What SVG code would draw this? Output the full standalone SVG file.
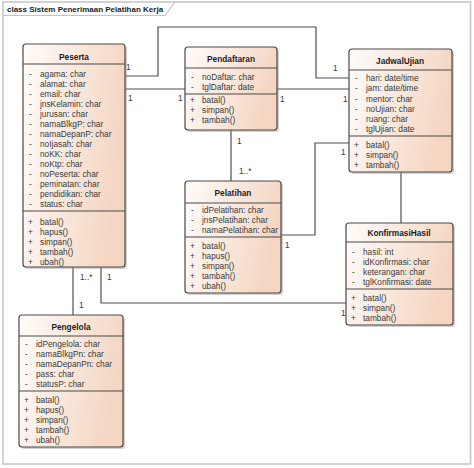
<svg xmlns="http://www.w3.org/2000/svg" width="474" height="468" viewBox="0 0 474 468">
<defs>
<linearGradient id="g" x1="0" y1="0" x2="1" y2="0.25">
<stop offset="0" stop-color="#fffcfa"/>
<stop offset="1" stop-color="#f4d6c2"/>
</linearGradient>
</defs>
<style>
text{font-family:"Liberation Sans",Arial,sans-serif;font-size:8.3px;fill:#3a3a3a}
.t{font-weight:bold;font-size:8.3px;fill:#222;text-anchor:middle}
.ttl{font-weight:bold;font-size:8px;fill:#222}
.box{fill:url(#g);stroke:#4a4a4a;stroke-width:1.2}
.sh{fill:#9a9a9a;opacity:0.45}
.dv{stroke:#4a4a4a;stroke-width:1.2}
.c{fill:none;stroke:#505050;stroke-width:1.2}
.m{font-size:8px}
.v{fill:#777}
</style>
<rect width="474" height="468" fill="#ffffff"/>
<g id="frame">
<rect x="3" y="2" width="467.5" height="462" fill="none" stroke="#c4c4c4" stroke-width="1.5"/>
<polyline points="3,15.5 165,15.5 175,2" fill="none" stroke="#c4c4c4" stroke-width="1.2"/>
<text class="ttl" x="7" y="12">class Sistem Penerimaan Pelatihan Kerja</text>
</g>
<g id="connectors">
<polyline class="c" points="125,76 158,76 158,27 316,27 316,78 349,78"/>
<line class="c" x1="125" y1="89" x2="185" y2="89"/>
<line class="c" x1="277" y1="89" x2="349" y2="89"/>
<line class="c" x1="231" y1="130" x2="231" y2="181"/>
<polyline class="c" points="281,235 315,235 315,143 349,143"/>
<line class="c" x1="401" y1="172" x2="401" y2="223"/>
<polyline class="c" points="101,267 101,303 346,303"/>
<line class="c" x1="73" y1="267" x2="73" y2="315"/>
<g class="m">
<text x="126" y="70">1</text>
<text x="333" y="71">1</text>
<text x="128" y="101">1</text>
<text x="178" y="101">1</text>
<text x="280" y="102">1</text>
<text x="343" y="102">1</text>
<text x="237" y="144">1</text>
<text x="239" y="174">1..*</text>
<text x="285" y="248">1</text>
<text x="341" y="155">1</text>
<text x="107" y="280">1</text>
<text x="341" y="316">1</text>
<text x="80" y="280">1..*</text>
<text x="79" y="308">1</text>
</g>
</g>
<g id="Peserta">
<rect class="sh" x="25" y="46" width="102" height="223" rx="3"/>
<rect class="box" x="23" y="44" width="102" height="223" rx="3"/>
<line class="dv" x1="23" y1="64" x2="125" y2="64"/>
<line class="dv" x1="23" y1="211" x2="125" y2="211"/>
<text class="t" x="74" y="60">Peserta</text>
<g class="v"><text x="29" y="77">-</text><text x="29" y="87">-</text><text x="29" y="97">-</text><text x="29" y="107">-</text><text x="29" y="117">-</text><text x="29" y="127">-</text><text x="29" y="137">-</text><text x="29" y="147">-</text><text x="29" y="157">-</text><text x="29" y="167">-</text><text x="29" y="177">-</text><text x="29" y="187">-</text><text x="29" y="197">-</text><text x="29" y="207">-</text></g>
<text x="40" y="77">agama: char</text>
<text x="40" y="87">alamat: char</text>
<text x="40" y="97">email: char</text>
<text x="40" y="107">jnsKelamin: char</text>
<text x="40" y="117">jurusan: char</text>
<text x="40" y="127">namaBlkgP: char</text>
<text x="40" y="137">namaDepanP: char</text>
<text x="40" y="147">noIjasah: char</text>
<text x="40" y="157">noKK: char</text>
<text x="40" y="167">noKtp: char</text>
<text x="40" y="177">noPeserta: char</text>
<text x="40" y="187">peminatan: char</text>
<text x="40" y="197">pendidikan: char</text>
<text x="40" y="207">status: char</text>
<text x="28" y="225">+</text><text x="28" y="235">+</text><text x="28" y="245">+</text><text x="28" y="255">+</text><text x="28" y="265">+</text>
<text x="40" y="225">batal()</text>
<text x="40" y="235">hapus()</text>
<text x="40" y="245">simpan()</text>
<text x="40" y="255">tambah()</text>
<text x="40" y="265">ubah()</text>
</g>
<g id="Pendaftaran">
<rect class="sh" x="187" y="49" width="92" height="83" rx="3"/>
<rect class="box" x="185" y="47" width="92" height="83" rx="3"/>
<line class="dv" x1="185" y1="68" x2="277" y2="68"/>
<line class="dv" x1="185" y1="94" x2="277" y2="94"/>
<text class="t" x="231" y="62">Pendaftaran</text>
<g class="v"><text x="191" y="80">-</text><text x="191" y="90">-</text></g>
<text x="202" y="80">noDaftar: char</text>
<text x="202" y="90">tglDaftar: date</text>
<text x="190" y="103">+</text><text x="190" y="113">+</text><text x="190" y="123">+</text>
<text x="202" y="103">batal()</text>
<text x="202" y="113">simpan()</text>
<text x="202" y="123">tambah()</text>
</g>
<g id="JadwalUjian">
<rect class="sh" x="351" y="51" width="103" height="123" rx="3"/>
<rect class="box" x="349" y="49" width="103" height="123" rx="3"/>
<line class="dv" x1="349" y1="70" x2="452" y2="70"/>
<line class="dv" x1="349" y1="136" x2="452" y2="136"/>
<text class="t" x="400" y="64">JadwalUjian</text>
<g class="v"><text x="355" y="81">-</text><text x="355" y="91.2">-</text><text x="355" y="101.5">-</text><text x="355" y="111.8">-</text><text x="355" y="122">-</text><text x="355" y="132.2">-</text></g>
<text x="366" y="81">hari: date/time</text>
<text x="366" y="91.2">jam: date/time</text>
<text x="366" y="101.5">mentor: char</text>
<text x="366" y="111.8">noUjian: char</text>
<text x="366" y="122">ruang: char</text>
<text x="366" y="132.2">tglUjian: date</text>
<text x="354" y="148">+</text><text x="354" y="158">+</text><text x="354" y="168">+</text>
<text x="366" y="148">batal()</text>
<text x="366" y="158">simpan()</text>
<text x="366" y="168">tambah()</text>
</g>
<g id="Pelatihan">
<rect class="sh" x="187" y="183" width="96" height="112" rx="3"/>
<rect class="box" x="185" y="181" width="96" height="112" rx="3"/>
<line class="dv" x1="185" y1="203" x2="281" y2="203"/>
<line class="dv" x1="185" y1="237" x2="281" y2="237"/>
<text class="t" x="233" y="196">Pelatihan</text>
<g class="v"><text x="191" y="213">-</text><text x="191" y="223">-</text><text x="191" y="233">-</text></g>
<text x="202" y="213">idPelatihan: char</text>
<text x="202" y="223">jnsPelatihan: char</text>
<text x="202" y="233">namaPelatihan: char</text>
<text x="190" y="249">+</text><text x="190" y="259">+</text><text x="190" y="269">+</text><text x="190" y="279">+</text><text x="190" y="289">+</text>
<text x="202" y="249">batal()</text>
<text x="202" y="259">hapus()</text>
<text x="202" y="269">simpan()</text>
<text x="202" y="279">tambah()</text>
<text x="202" y="289">ubah()</text>
</g>
<g id="KonfirmasiHasil">
<rect class="sh" x="348" y="225" width="107" height="102" rx="3"/>
<rect class="box" x="346" y="223" width="107" height="102" rx="3"/>
<line class="dv" x1="346" y1="242" x2="453" y2="242"/>
<line class="dv" x1="346" y1="289" x2="453" y2="289"/>
<text class="t" x="399" y="236">KonfirmasiHasil</text>
<g class="v"><text x="352" y="255">-</text><text x="352" y="265">-</text><text x="352" y="275">-</text><text x="352" y="285">-</text></g>
<text x="363" y="255">hasil: int</text>
<text x="363" y="265">idKonfirmasi: char</text>
<text x="363" y="275">keterangan: char</text>
<text x="363" y="285">tglKonfirmasi: date</text>
<text x="351" y="301">+</text><text x="351" y="311">+</text><text x="351" y="321">+</text>
<text x="363" y="301">batal()</text>
<text x="363" y="311">simpan()</text>
<text x="363" y="321">tambah()</text>
</g>
<g id="Pengelola">
<rect class="sh" x="21" y="317" width="104" height="132" rx="3"/>
<rect class="box" x="19" y="315" width="104" height="132" rx="3"/>
<line class="dv" x1="19" y1="336" x2="123" y2="336"/>
<line class="dv" x1="19" y1="391" x2="123" y2="391"/>
<text class="t" x="71" y="330">Pengelola</text>
<g class="v"><text x="25" y="347">-</text><text x="25" y="357">-</text><text x="25" y="367">-</text><text x="25" y="377">-</text><text x="25" y="387">-</text></g>
<text x="36" y="347">idPengelola: char</text>
<text x="36" y="357">namaBlkgPn: char</text>
<text x="36" y="367">namaDepanPn: char</text>
<text x="36" y="377">pass: char</text>
<text x="36" y="387">statusP: char</text>
<text x="24" y="403">+</text><text x="24" y="413">+</text><text x="24" y="423">+</text><text x="24" y="433">+</text><text x="24" y="443">+</text>
<text x="36" y="403">batal()</text>
<text x="36" y="413">hapus()</text>
<text x="36" y="423">simpan()</text>
<text x="36" y="433">tambah()</text>
<text x="36" y="443">ubah()</text>
</g>
</svg>
